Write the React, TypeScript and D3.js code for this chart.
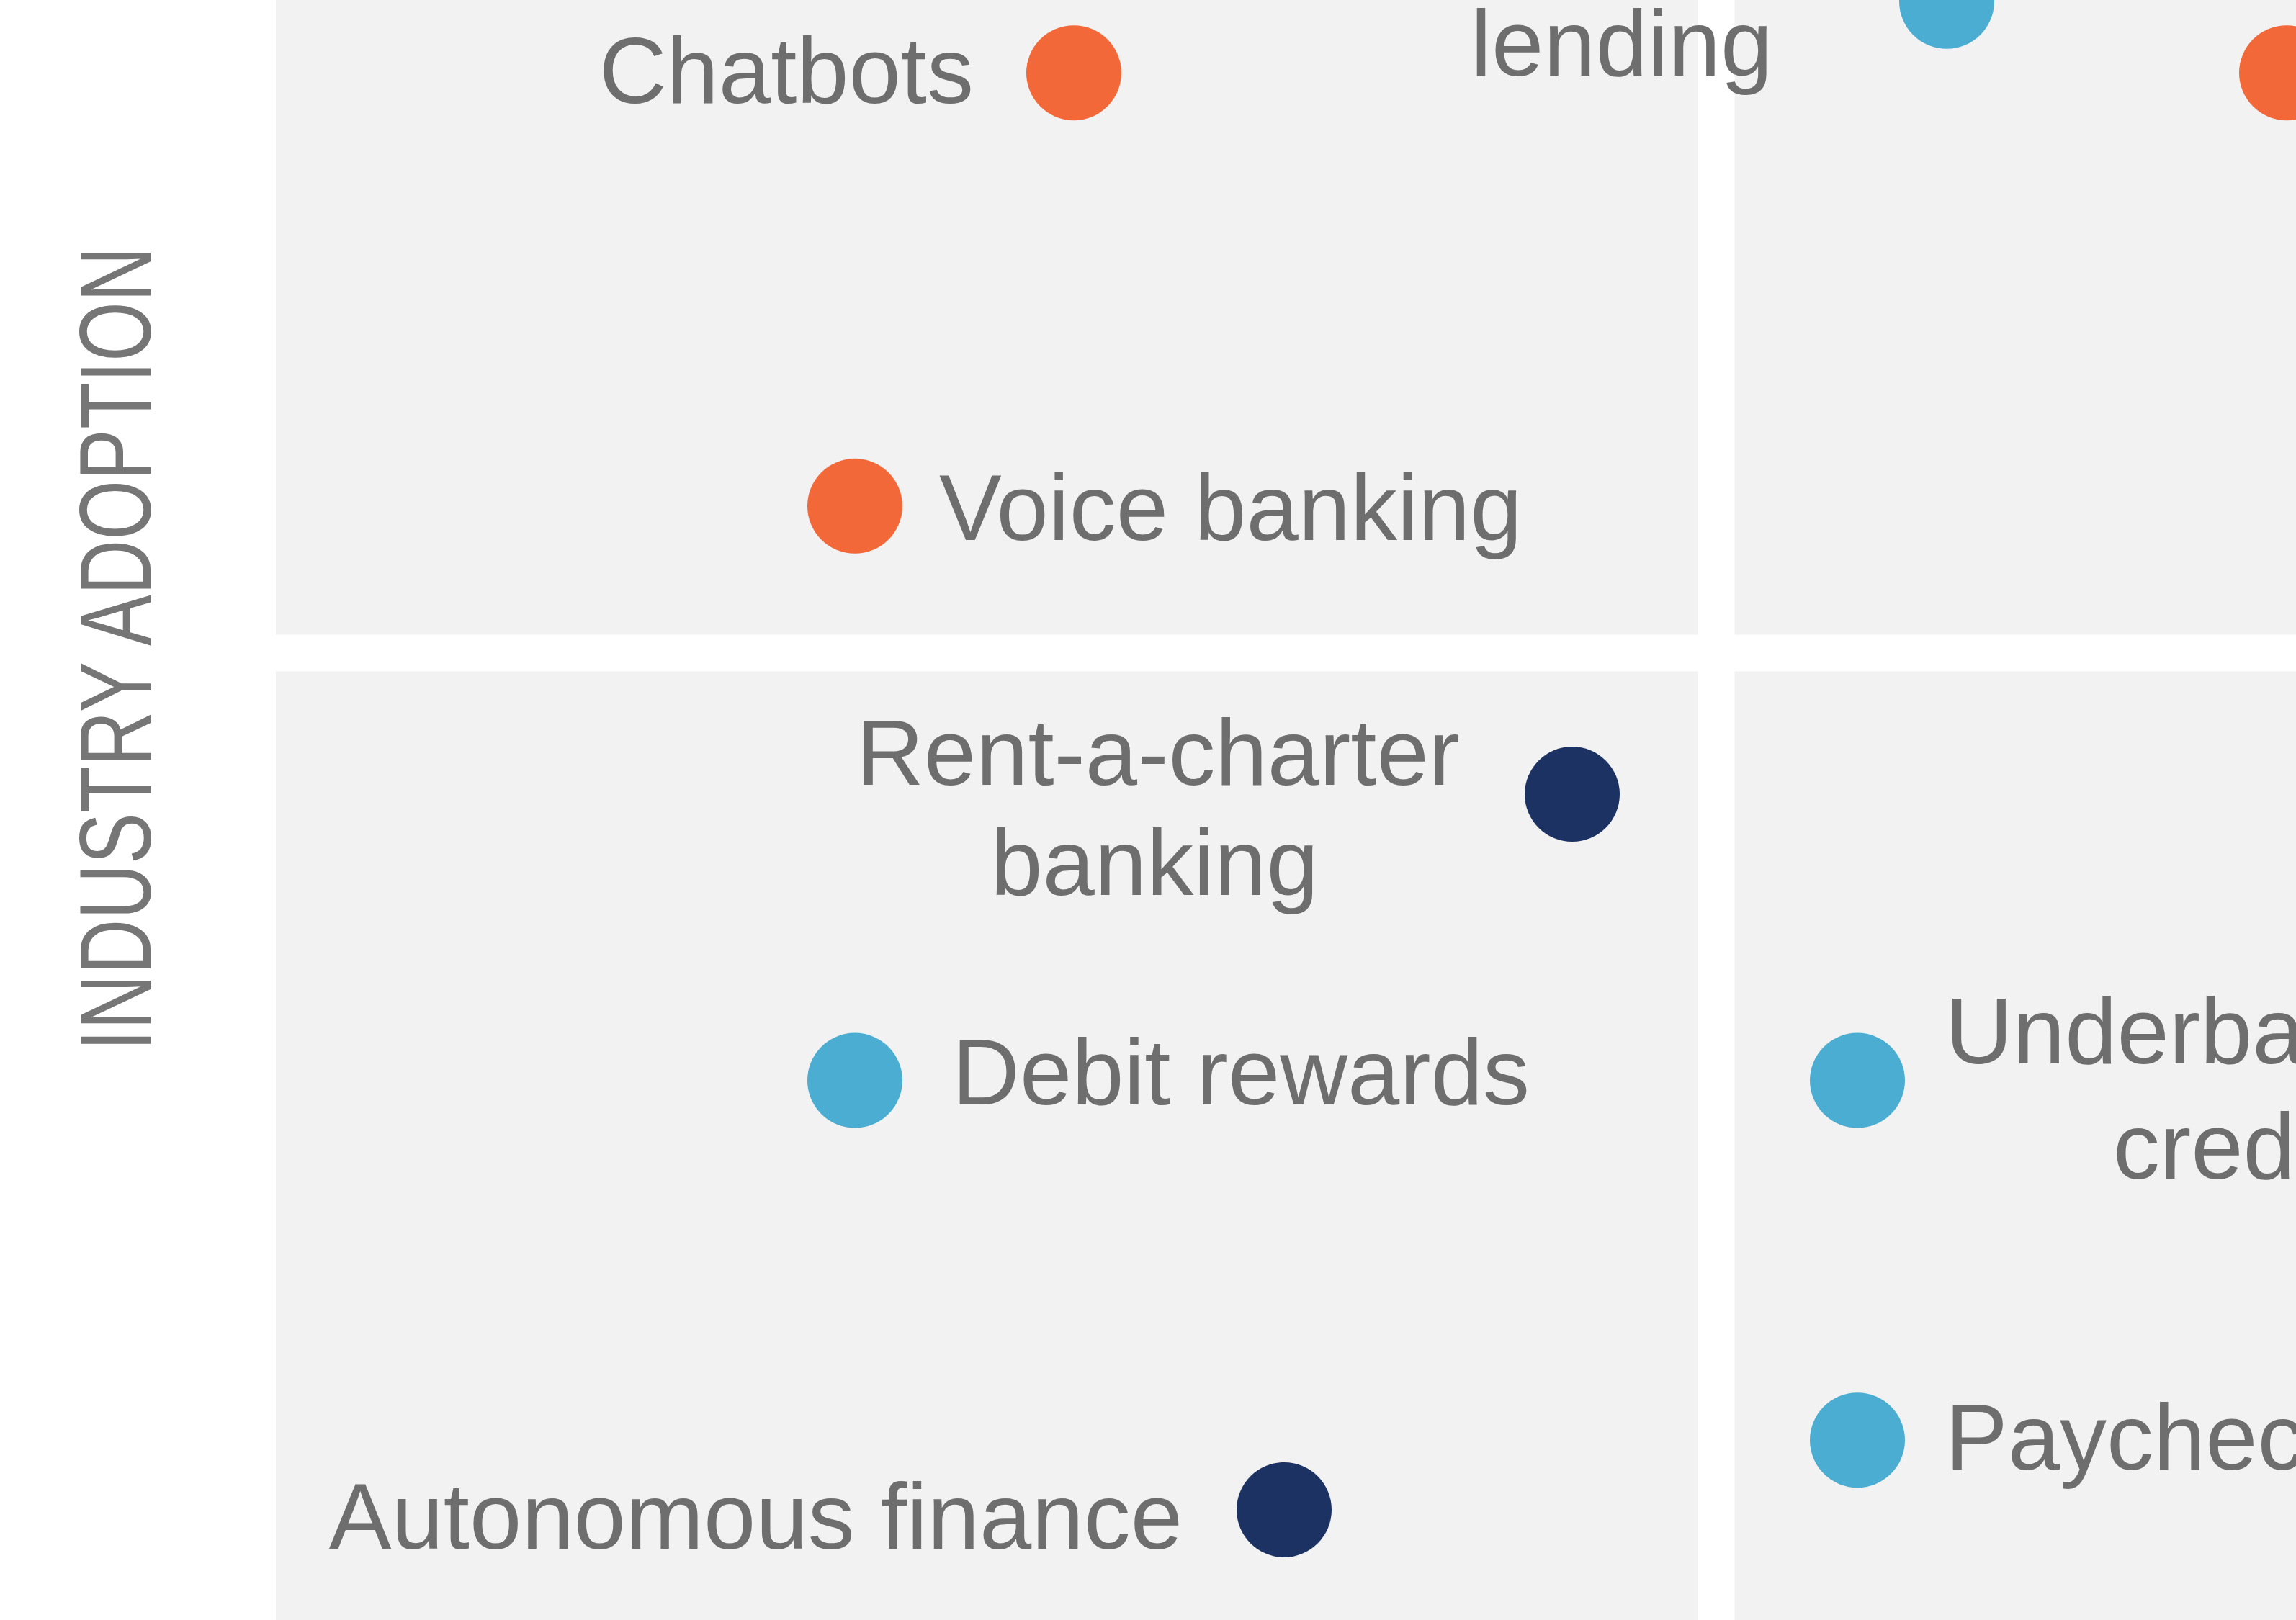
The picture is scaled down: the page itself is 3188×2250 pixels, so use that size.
import { useEffect, useRef } from "react";
import * as d3 from "d3";

// technologies, placed on a 0-10 grid split into quadrants at 5
const techNames = [
  "Chatbots",
  "lending",
  "",
  "Voice banking",
  "Rent-a-charter\nbanking",
  "Debit rewards",
  "Underbanked\ncredit",
  "Paycheck",
  "Autonomous finance",
];
const impactValues = [2.77, 5.8, 6.98, 2.01, 4.5, 2.01, 5.49, 5.49, 3.5];
const adoptionValues = [8.0, 8.37, 8.0, 5.76, 4.27, 2.79, 2.79, 0.93, 0.57];
const techGroups = ["orange", "blue", "orange", "orange", "navy", "blue", "blue", "blue", "navy"];

const groupKeys = ["orange", "blue", "navy"];
const groupColors = ["#f26839", "#4badd1", "#1b3263"];

const yAxisTitle = "INDUSTRY ADOPTION";

// hand placed label offsets (px from the dot centre), one entry per tech
const labelLayout: { anchor: string; dx: number[]; dy: number; lh: number }[] = [
  { anchor: "end", dx: [-139], dy: 42, lh: 0 },
  { anchor: "start", dx: [-661], dy: 103, lh: 0 },
  { anchor: "start", dx: [0], dy: 0, lh: 0 },
  { anchor: "start", dx: [117], dy: 47, lh: 0 },
  { anchor: "middle", dx: [-575, -580], dy: -13, lh: 153 },
  { anchor: "start", dx: [135], dy: 33, lh: 0 },
  { anchor: "start", dx: [122, 355], dy: -24, lh: 160 },
  { anchor: "start", dx: [122], dy: 41, lh: 0 },
  { anchor: "end", dx: [-141], dy: 54, lh: 0 },
];

export default function App() {
  const svgRef = useRef<SVGSVGElement>(null);

  useEffect(() => {
    if (!svgRef.current) return;
    const svg = d3.select(svgRef.current);
    svg.selectAll("*").remove();

    const width = 3188;
    const height = 2250;
    const gap = 51;
    const radius = 66;

    const x = d3.scaleLinear().domain([0, 10]).range([383, 4383]);
    const y = d3.scaleLinear().domain([0, 10]).range([2250, -436]);
    const color = d3.scaleOrdinal<string, string>().domain(groupKeys).range(groupColors);

    svg.attr("width", width).attr("height", height);
    svg.append("rect").attr("width", width).attr("height", height).attr("fill", "#ffffff");

    // quadrant panels
    const [x0, x1] = x.range();
    const [y0, y1] = y.range();
    const xm = x(5);
    const ym = y(5);
    const quads = [
      { x: x0, y: y1, w: xm - gap / 2 - x0, h: ym - gap / 2 - y1 },
      { x: xm + gap / 2, y: y1, w: x1 - xm - gap / 2, h: ym - gap / 2 - y1 },
      { x: x0, y: ym + gap / 2, w: xm - gap / 2 - x0, h: y0 - ym - gap / 2 },
      { x: xm + gap / 2, y: ym + gap / 2, w: x1 - xm - gap / 2, h: y0 - ym - gap / 2 },
    ];
    svg
      .append("g")
      .selectAll("rect")
      .data(quads)
      .enter()
      .append("rect")
      .attr("x", (d) => d.x)
      .attr("y", (d) => d.y)
      .attr("width", (d) => d.w)
      .attr("height", (d) => d.h)
      .attr("fill", "#f2f2f2");

    // y axis title
    svg
      .append("text")
      .attr("transform", `translate(209,${ym - 6}) rotate(-90)`)
      .attr("text-anchor", "middle")
      .attr("font-family", "'Liberation Sans Narrow', 'Liberation Sans', Arial, sans-serif")
      .attr("font-size", 141)
      .attr("fill", "#767676")
      .attr("textLength", 1117)
      .attr("lengthAdjust", "spacingAndGlyphs")
      .text(yAxisTitle);

    const points = techNames.map((name, i) => ({
      name,
      cx: x(impactValues[i]),
      cy: y(adoptionValues[i]),
      group: techGroups[i],
      layout: labelLayout[i],
    }));

    // dots
    svg
      .append("g")
      .selectAll("circle")
      .data(points)
      .enter()
      .append("circle")
      .attr("cx", (d) => d.cx)
      .attr("cy", (d) => d.cy)
      .attr("r", radius)
      .attr("fill", (d) => color(d.group));

    // labels
    const labels = svg
      .append("g")
      .attr("font-family", "'Liberation Sans', Arial, sans-serif")
      .attr("font-size", 130)
      .attr("fill", "#6e6e6e")
      .selectAll("text")
      .data(points.filter((d) => d.name))
      .enter()
      .append("text")
      .attr("text-anchor", (d) => d.layout.anchor);

    labels
      .selectAll("tspan")
      .data((d) =>
        d.name.split("\n").map((line, j) => ({
          line,
          x: d.cx + d.layout.dx[j],
          y: d.cy + d.layout.dy + j * d.layout.lh,
        }))
      )
      .enter()
      .append("tspan")
      .attr("x", (t) => t.x)
      .attr("y", (t) => t.y)
      .text((t) => t.line);
  }, []);

  return (
    <svg
      ref={svgRef}
      style={{ position: "absolute", left: 0, top: 0, display: "block" }}
    />
  );
}
